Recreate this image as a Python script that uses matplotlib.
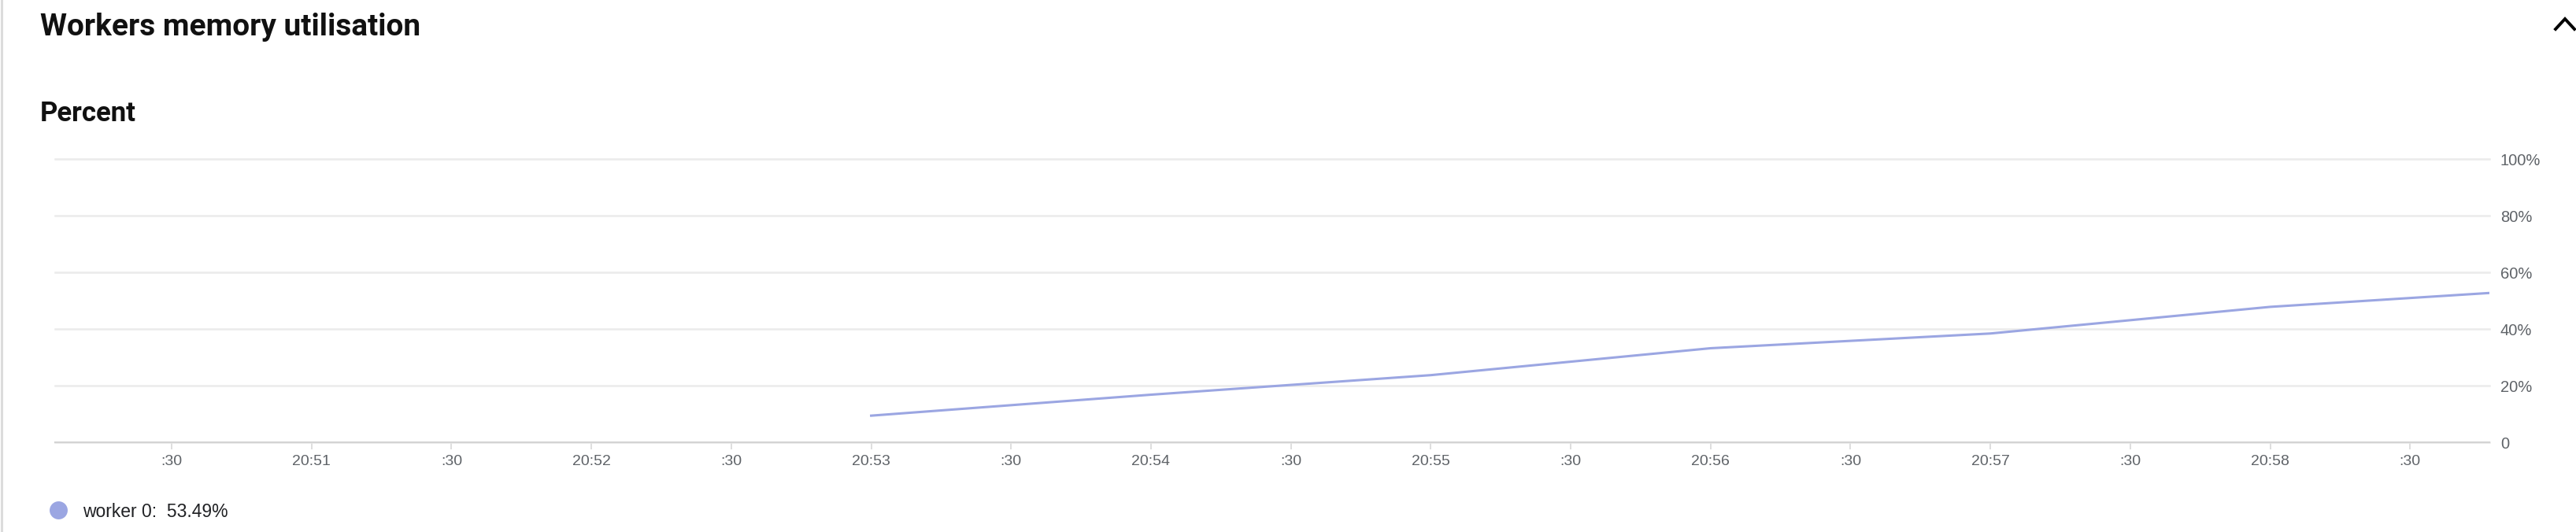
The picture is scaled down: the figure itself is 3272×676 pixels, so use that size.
import matplotlib
matplotlib.use("Agg")
import matplotlib.pyplot as plt
import matplotlib.dates as mdates
from matplotlib.lines import Line2D
from matplotlib.ticker import FuncFormatter
import pandas as pd

# data
day = "2024-01-01 "
sample_times = ["20:53:00", "20:54:00", "20:55:00", "20:56:00", "20:57:00", "20:58:00", "20:58:47"]
memory_pct = [9.4, 16.8, 23.7, 33.2, 38.4, 47.8, 52.7]
window = ["20:50:05", "20:58:47"]
y_ticks = [0, 20, 40, 60, 80, 100]
series_name = "worker 0"
latest_value = 53.49

title = "Workers memory utilisation"
subtitle = "Percent"

LINE_COLOR = "#9ba6e2"
GRID_COLOR = "#ebebeb"
AXIS_COLOR = "#d4d4d4"
TICK_TEXT = "#5f6368"

W, H = 3272, 676
fig = plt.figure(figsize=(W / 100, H / 100), dpi=100)
fig.patch.set_facecolor("white")

# plot area in pixels: x 70..3162, y 202..562
ax = fig.add_axes([70 / W, 1 - 562 / H, (3162 - 70) / W, (562 - 202) / H])

t = pd.to_datetime([day + s for s in sample_times])
ax.plot(t, memory_pct, color=LINE_COLOR, lw=2.2, solid_joinstyle="round")

ax.set_xlim(pd.to_datetime(day + window[0]), pd.to_datetime(day + window[1]))
ax.set_ylim(0, 100)

for side in ["top", "left", "right"]:
    ax.spines[side].set_visible(False)
ax.spines["bottom"].set_color(AXIS_COLOR)
ax.spines["bottom"].set_linewidth(1.6)

ax.yaxis.tick_right()
ax.set_yticks(y_ticks)
ax.set_yticklabels(["0" if v == 0 else f"{v}%" for v in y_ticks])
ax.tick_params(axis="y", length=0, pad=10, labelsize=14.5, labelcolor=TICK_TEXT)
for lab in ax.get_yticklabels():
    lab.set_family("Liberation Sans")
    lab.set_horizontalalignment("left")
ax.grid(axis="y", color=GRID_COLOR, lw=1.8)
for gl in ax.get_ygridlines():
    gl.set_clip_on(False)


def fmt_time(x, pos):
    d = mdates.num2date(x)
    if d.second == 30:
        return ":30"
    return d.strftime("%H:%M")


ax.xaxis.set_major_locator(mdates.SecondLocator(bysecond=[0, 30]))
ax.xaxis.set_major_formatter(FuncFormatter(fmt_time))
ax.tick_params(axis="x", direction="out", length=6.5, width=1.1, color=AXIS_COLOR,
               pad=5, labelsize=14, labelcolor=TICK_TEXT)
for lab in ax.get_xticklabels():
    lab.set_family("Liberation Sans")

# headings
fig.text(51 / W, 1 - 45 / H, title, fontsize=28, fontweight="bold",
         family="Roboto", color="#111111", va="baseline")
fig.text(51 / W, 1 - 154 / H, subtitle, fontsize=25, fontweight="bold",
         family="Roboto", color="#111111", va="baseline")

# legend row
fig.add_artist(Line2D([74 / W], [1 - 647.5 / H], marker="o", markersize=16.5,
                      color=LINE_COLOR, markeredgewidth=0, transform=fig.transFigure))
fig.text(105 / W, 1 - 648 / H, f"{series_name}:  {latest_value:.2f}%", fontsize=16.5,
         family="Liberation Sans", color="#202124", va="center_baseline")

# card border on the left and collapse chevron
fig.add_artist(Line2D([1.5 / W, 1.5 / W], [0, 1], color="#dcdcdc", lw=2.2,
                      transform=fig.transFigure))
fig.add_artist(Line2D([3246 / W, 3258 / W, 3270 / W], [1 - 37 / H, 1 - 24 / H, 1 - 37 / H],
                      color="black", lw=2.8, solid_joinstyle="miter",
                      transform=fig.transFigure))

fig.savefig("out.png", dpi=100, facecolor="white")
